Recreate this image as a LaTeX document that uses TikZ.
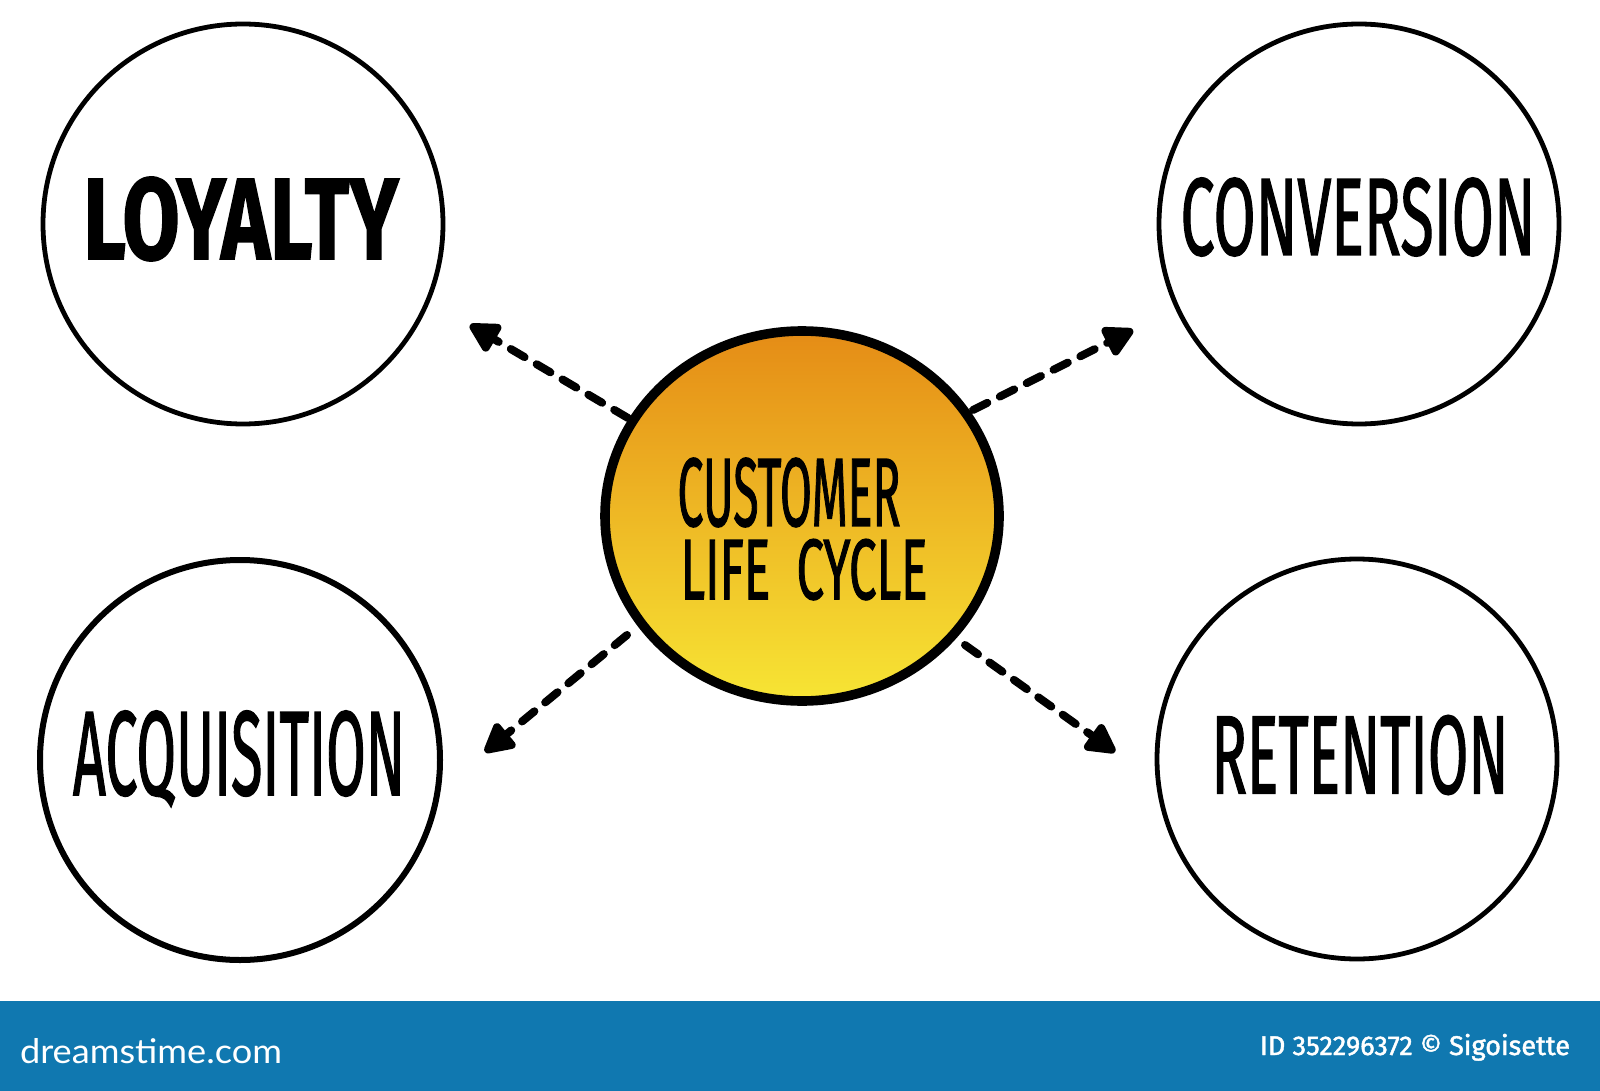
\documentclass[tikz,border=0pt]{standalone}
\usepackage{fontspec}
\setmainfont{Fira Sans}
\newfontfamily\handfont[FakeBold=1.6]{Fira Sans}
\newfontfamily\footfont{Lato}
\usetikzlibrary{arrows.meta,shapes.geometric}
\definecolor{footblue}{RGB}{16,120,176}
\definecolor{orangetop}{RGB}{229,140,22}
\definecolor{yellowbot}{RGB}{247,229,52}
\tikzset{
  ring/.style={circle,draw=black,line width=2.4pt,minimum size=200pt,inner sep=0pt,fill=white},
  lbl/.style={inner sep=0pt,outer sep=0pt},
  link/.style={line width=4pt,dash pattern=on 8pt off 7pt,line cap=round,
    -{Triangle[length=17pt,width=17pt,round]}},
}
\begin{document}
\begin{tikzpicture}[x=0.5pt,y=-0.5pt]
\useasboundingbox (0,0) rectangle (1600,1091);
\fill[white] (0,0) rectangle (1600,1091);
% outer circles
\node[ring] (loyalty) at (243,224) {};
\node[ring] (conversion) at (1359,224) {};
\node[ring,line width=3pt] (acquisition) at (240,760) {};
\node[ring] (retention) at (1357,759) {};
% labels
\node[lbl] (tloy) at (241,219) {\resizebox{157.5pt}{41pt}{\handfont\bfseries LOYALTY}};
\node[lbl] (tcon) at (1358,217) {\resizebox{177.5pt}{38.5pt}{\handfont CONVERSION}};
\node[lbl] (tacq) at (239,759) {\resizebox{166pt}{42pt}{\handfont ACQUISITION}};
\node[lbl] (tret) at (1360,755) {\resizebox{148.5pt}{39pt}{\handfont RETENTION}};
% arrow ends
\coordinate (sL) at (628,418);
\coordinate (tL) at (470,325);
\coordinate (sC) at (973,410);
\coordinate (tC) at (1133,330);
\coordinate (sA) at (627,635);
\coordinate (tA) at (485,752);
\coordinate (sR) at (965,645);
\coordinate (tR) at (1115,752);
% center
\node[ellipse,draw=black,line width=4.8pt,minimum width=197pt,minimum height=185pt,
  inner sep=0pt,top color=orangetop,bottom color=yellowbot] (hub) at (802,516) {};
\node[lbl,align=center] (tcus) at (800,529) {%
  \hspace*{-11pt}\resizebox{111.5pt}{34pt}{\handfont CUSTOMER}\\[5pt]
  \hspace*{4pt}\resizebox{123.5pt}{30pt}{\handfont LIFE\ \ CYCLE}};
% arrows
\draw[link] (sL) -- (tL);
\draw[link] (sC) -- (tC);
\draw[link] (sA) -- (tA);
\draw[link] (sR) -- (tR);
% footer
\fill[footblue] (0,1001) rectangle (1600,1091);
\node[lbl,anchor=base west,text=white] (brand) at (20,1063) {\resizebox{131pt}{12.5pt}{\footfont dreamstime.com}};
\node[lbl,anchor=base east,text=white] (credit) at (1570,1055) {\resizebox{155pt}{!}{\handfont ID 352296372 © Sigoisette}};
\end{tikzpicture}
\end{document}
